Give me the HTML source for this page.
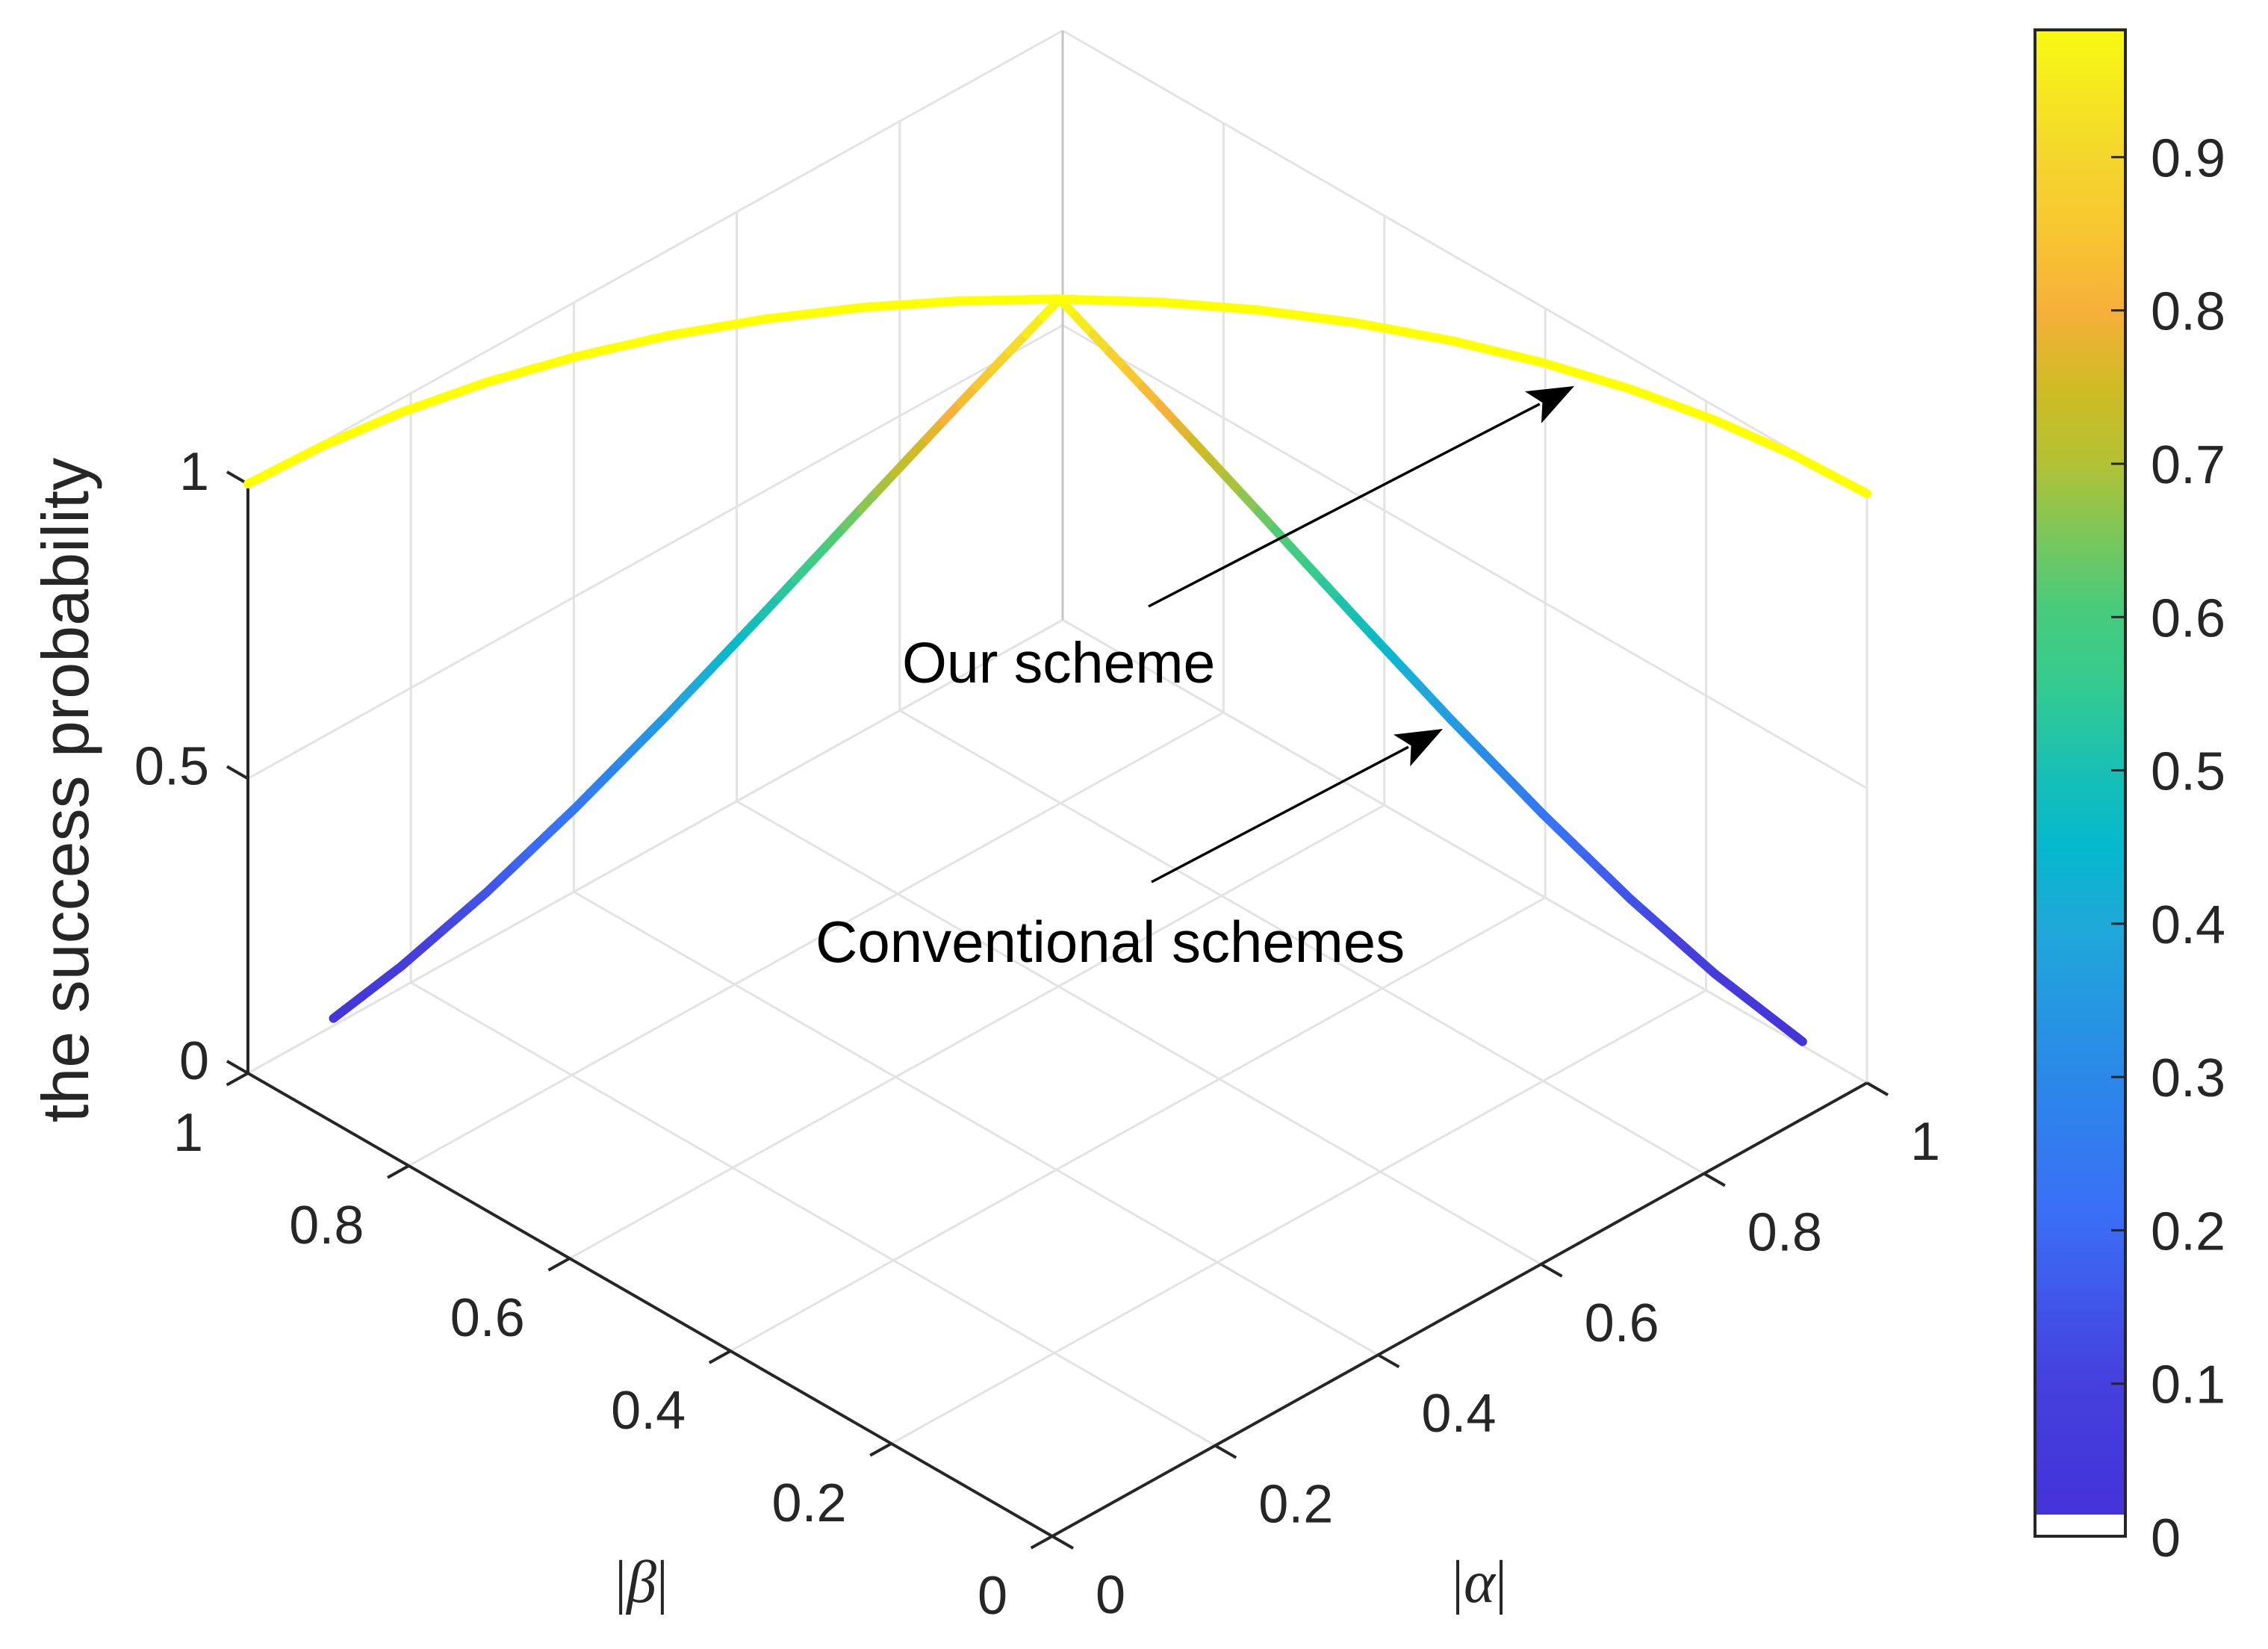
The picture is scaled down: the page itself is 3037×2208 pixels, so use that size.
<!DOCTYPE html>
<html><head><meta charset="utf-8"><style>
html,body{margin:0;padding:0;background:#fff;}
svg{display:block;font-family:"Liberation Sans",Arial,sans-serif;}
</style></head><body>
<svg id="chart" xmlns="http://www.w3.org/2000/svg" width="3037" height="2208" viewBox="0 0 3037 2208">
<defs>
<linearGradient id="parula" x1="0" y1="1" x2="0" y2="0">
<stop offset="0" stop-color="#4433d8"/><stop offset="0.09" stop-color="#4540de"/>
<stop offset="0.20" stop-color="#3a6ef7"/><stop offset="0.30" stop-color="#2a8ae8"/>
<stop offset="0.40" stop-color="#1eaad8"/><stop offset="0.45" stop-color="#05b9ce"/>
<stop offset="0.50" stop-color="#18bfb4"/><stop offset="0.56" stop-color="#35cb90"/>
<stop offset="0.61" stop-color="#48cb7c"/><stop offset="0.66" stop-color="#7cc75a"/>
<stop offset="0.71" stop-color="#b5c133"/><stop offset="0.76" stop-color="#d0bb24"/>
<stop offset="0.81" stop-color="#f6b03a"/><stop offset="0.87" stop-color="#f8c830"/>
<stop offset="0.92" stop-color="#f4d82c"/><stop offset="1" stop-color="#f8f912"/>
</linearGradient>
</defs>
<g id="grid"></g>
<g id="axes"></g>
<g id="series"></g>
<g id="annot"></g>
<g id="cbar"></g>
</svg>
<script>
// ---- data ----
const ourAlpha = [0,.0872,.1736,.2588,.3420,.4226,.5,.5736,.6428,.7071,.7660,.8192,.8660,.9063,.9397,.9659,.9848,.9962,1];
const ourBeta  = [1,.9962,.9848,.9659,.9397,.9063,.8660,.8192,.7660,.7071,.6428,.5736,.5,.4226,.3420,.2588,.1736,.0872,0];
const ourP     = [1,1,1,1,1,1,1,1,1,1,1,1,1,1,1,1,1,1,1];
const convAlpha = [.1,.1736,.2588,.3420,.4226,.5,.5736,.6428,.7071,.7660,.8192,.8660,.9063,.9397,.9659,.9848,.997];
const convBeta  = [.995,.9848,.9659,.9397,.9063,.8660,.8192,.7660,.7071,.6428,.5736,.5,.4226,.3420,.2588,.1736,.077];
const convP     = [.02,.0603,.134,.234,.357,.5,.658,.826,1.0,.826,.658,.5,.357,.234,.134,.0603,.0119];
const abTicks = [0,0.2,0.4,0.6,0.8,1];
const abTickLabels = ["0","0.2","0.4","0.6","0.8","1"];
const zTicks = [0,0.5,1];
const zTickLabels = ["0","0.5","1"];
const cbTicks = [0,0.1,0.2,0.3,0.4,0.5,0.6,0.7,0.8,0.9];
const cbTickLabels = ["0","0.1","0.2","0.3","0.4","0.5","0.6","0.7","0.8","0.9"];

// ---- projection ----
const F=[1409,2057], A=[1091,-607], B=[-1077,-620], Z=789;
function P(a,b,z){return [F[0]+a*A[0]+b*B[0], F[1]+a*A[1]+b*B[1]-z*Z];}
const NS="http://www.w3.org/2000/svg";
function mk(tag,attrs,parent){const e=document.createElementNS(NS,tag);for(const k in attrs)e.setAttribute(k,attrs[k]);parent.appendChild(e);return e;}
function line(p,q,stroke,w,parent,name){const e=mk('line',{x1:p[0],y1:p[1],x2:q[0],y2:q[1],stroke:stroke,'stroke-width':w,'stroke-linecap':'butt'},parent);


return e;}
const grid=document.getElementById('grid'), axes=document.getElementById('axes'), series=document.getElementById('series'), annot=document.getElementById('annot'), cbar=document.getElementById('cbar');
const GC="#e3e3e3";
abTicks.forEach(t=>{
  line(P(t,0,0),P(t,1,0),GC,3,grid,'floor-grid-alpha');
  line(P(0,t,0),P(1,t,0),GC,3,grid,'floor-grid-beta');
  line(P(t,1,0),P(t,1,1),GC,3,grid,'wall-grid-vertical');
  line(P(1,t,0),P(1,t,1),GC,3,grid,'wall-grid-vertical');
});
zTicks.forEach(z=>{
  line(P(0,1,z),P(1,1,z),GC,3,grid,'wall-grid-horizontal');
  line(P(1,0,z),P(1,1,z),GC,3,grid,'wall-grid-horizontal');
});
line(P(1,1,0),P(1,1,1),"#c4c4c4",3,grid,'back-corner-line');
// axes
const AC="#262626";
line(P(0,0,0),P(0,1,0),AC,4,axes,'beta-axis-line');
line(P(0,0,0),P(1,0,0),AC,4,axes,'alpha-axis-line');
line(P(0,1,0),P(0,1,1),AC,4,axes,'z-axis-line');
function txt(x,y,s,size,anchor,parent,name,extra){const e=mk('text',Object.assign({x:x,y:y,'font-size':size,'text-anchor':anchor,fill:'#262626'},extra||{}),parent);e.textContent=s;


return e;}
abTicks.forEach((t,i)=>{
  const p=P(0,t,0); line(p,[p[0]-0.026*A[0],p[1]-0.026*A[1]],AC,4,axes,'beta-tick');
  txt(p[0]-60,p[1]+78+26,abTickLabels[i],72,'end',axes,'beta-tick-label');
  const q=P(t,0,0); line(q,[q[0]-0.026*B[0],q[1]-0.026*B[1]],AC,4,axes,'alpha-tick');
  txt(q[0]+58,q[1]+77+26,abTickLabels[i],72,'start',axes,'alpha-tick-label');
});
zTicks.forEach((z,i)=>{
  const p=P(0,1,z); line(p,[p[0]+0.026*B[0],p[1]+0.026*B[1]],AC,4,axes,'z-tick');
  txt(280,p[1]-18+26,zTickLabels[i],72,'end',axes,'z-tick-label');
});
txt(88,1058,"the success probability",88,'middle',axes,'z-axis-title',{transform:'rotate(-90 88 1058)',dy:'30'});
const bt=txt(859,2145,"",80,'middle',axes,'beta-axis-title',{'font-family':'"Liberation Serif",serif'});
bt.innerHTML='<tspan>|</tspan><tspan font-style="italic">β</tspan><tspan>|</tspan>';
const at=txt(1981,2145,"",80,'middle',axes,'alpha-axis-title',{'font-family':'"Liberation Serif",serif'});
at.innerHTML='<tspan>|</tspan><tspan font-style="italic">α</tspan><tspan>|</tspan>';

// colormap
const cmStops=[[0,[68,51,216]],[0.09,[69,64,222]],[0.2,[58,110,247]],[0.3,[42,138,232]],[0.4,[30,170,216]],[0.45,[5,185,206]],[0.5,[24,191,180]],[0.56,[53,203,144]],[0.61,[72,203,124]],[0.66,[124,199,90]],[0.71,[181,193,51]],[0.76,[208,187,36]],[0.81,[246,176,58]],[0.87,[248,200,48]],[0.92,[244,216,44]],[0.985,[248,249,18]],[1,[255,255,0]]];
function cmap(v){v=Math.max(0,Math.min(1,v));for(let i=1;i<cmStops.length;i++){if(v<=cmStops[i][0]){const [t0,c0]=cmStops[i-1],[t1,c1]=cmStops[i];const f=(v-t0)/(t1-t0);return 'rgb('+c0.map((c,k)=>Math.round(c+(c1[k]-c)*f)).join(',')+')';}}return 'rgb(255,255,0)';}
function drawSeries(al,be,pp,name,w){
  const g=mk('g',{},series);
  
  
  for(let i=0;i<al.length-1;i++){
    const N=6;
    for(let k=0;k<N;k++){
      const f0=k/N,f1=(k+1)/N;
      const a0=al[i]+(al[i+1]-al[i])*f0,b0=be[i]+(be[i+1]-be[i])*f0,z0=pp[i]+(pp[i+1]-pp[i])*f0;
      const a1=al[i]+(al[i+1]-al[i])*f1,b1=be[i]+(be[i+1]-be[i])*f1,z1=pp[i]+(pp[i+1]-pp[i])*f1;
      const s=line(P(a0,b0,z0),P(a1,b1,z1),cmap((z0+z1)/2),w,g,name+'-segment');
      s.setAttribute('stroke-linecap','round');
    }
  }
}
drawSeries(convAlpha,convBeta,convP,'conventional-schemes-curve',12);
drawSeries(ourAlpha,ourBeta,ourP,'our-scheme-curve',12);

// annotations
function arrow(x1,y1,x2,y2,name){
  const g=mk('g',{},annot);
  
  
  const dx=x2-x1,dy=y2-y1,L=Math.hypot(dx,dy),ux=dx/L,uy=dy/L,hl=62,hw=24;
  const bx=x2-ux*hl,by=y2-uy*hl;
  mk('line',{x1:x1,y1:y1,x2:bx+ux*10,y2:by+uy*10,stroke:'#000','stroke-width':3.5},g);
  mk('polygon',{points:`${x2},${y2} ${bx-uy*hw},${by+ux*hw} ${bx+ux*14},${by+uy*14} ${bx+uy*hw},${by-ux*hw}`,fill:'#000'},g);
}
arrow(1538,812,2108,517,'our-scheme-arrow');
arrow(1542,1181,1932,976,'conventional-arrow');
const t1=txt(1208,914,"Our scheme",77,'start',annot,'our-scheme-label');t1.setAttribute('fill','#000');
const t2=txt(1092,1288,"Conventional schemes",78,'start',annot,'conventional-schemes-label');t2.setAttribute('fill','#000');

// colorbar
const cbX=2725,cbW=121,cbTop=40,cbBot=2057,cbZero=2058,cbMaxV=0.983;
function cy(v){return cbZero-v*(cbZero-cbTop)/cbMaxV;}
const rWhite=mk('rect',{x:cbX,y:cbTop,width:cbW,height:cbBot-cbTop,fill:'#fff'},cbar);


const rg=mk('rect',{x:cbX,y:cbTop,width:cbW,height:cy(0.0146)-cbTop,fill:'url(#parula)'},cbar);


const rb=mk('rect',{x:cbX,y:cbTop,width:cbW,height:cbBot-cbTop,fill:'none',stroke:'#262626','stroke-width':4},cbar);


cbTicks.forEach((v,i)=>{
  const y=cy(v);
  if(v>0) line([cbX+cbW-19,y],[cbX+cbW,y],'#262626',3,cbar,'colorbar-tick');
  txt(2880,y+26,cbTickLabels[i],72,'start',cbar,'colorbar-tick-label');
});
</script>
</body></html>
